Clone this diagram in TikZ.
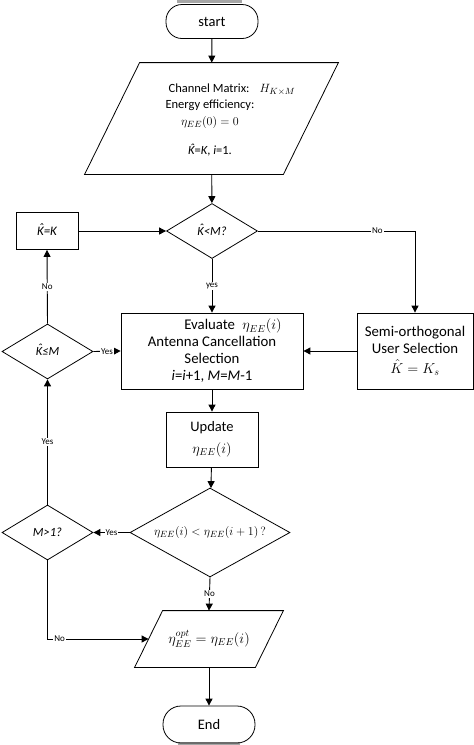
\documentclass[tikz,border=0pt]{standalone}
\usepackage{amsmath}
\usepackage[no-math]{fontspec}
\setmainfont{Carlito}
\usepackage{tikz}
\usetikzlibrary{shapes.geometric}
\usetikzlibrary{arrows.meta}
\usetikzlibrary{positioning}

% K with a hat, the hat glyph set over the letter
\newcommand{\Kh}{\ooalign{K\cr\hidewidth\kern0.15em\raisebox{0.45ex}{ˆ}\hidewidth\cr}}

\tikzset{
	term/.style={rectangle, draw=black, rounded corners=16pt, minimum width=92pt, minimum height=34pt, font=\fontsize{14.5}{16}\selectfont},
	proc/.style={rectangle, draw=black, inner sep=2pt, align=center, font=\fontsize{14.8}{17}\selectfont},
	io/.style={rectangle, draw=none, inner sep=0pt, align=center},
	ask/.style={diamond, draw=black, inner sep=0pt, aspect=1.65, minimum width=91pt, minimum height=55pt, font=\fontsize{12.5}{14}\selectfont\itshape},
	flow/.style={-{Triangle[length=7pt,width=7pt]}, line width=0.9pt},
	lbl/.style={fill=white, inner sep=1pt, font=\fontsize{9}{10}\selectfont}
}

\begin{document}
\begin{tikzpicture}[x=1pt, y=-1pt, line width=0.8pt]
	\useasboundingbox (0,0) rectangle (474,745);
	% cut shadows at the page edges
	\fill[gray!70] (177,0) rectangle (242,3);
	\fill[gray!70] (178,742) rectangle (240,745);

	% nodes
	\node[term] (start) at (212,21.5) {start};
	\node[io, minimum width=198pt, minimum height=111pt] (init) at (211.5,118.5) {};
	\draw ([xshift=27.5pt]init.north west) -- ([xshift=27.5pt]init.north east)
		-- ([xshift=-27.5pt]init.south east) -- ([xshift=-27.5pt]init.south west) -- cycle;
	\node[align=center, font=\fontsize{12.5}{16.5}\selectfont] at (210,120)
		{\hspace*{44pt}Channel Matrix:\hspace{10pt}$H_{K\times M}$\\ Energy efficiency:\\ $\eta_{EE}(0)=0$\\[13pt]
		{\itshape \Kh\upshape=\itshape K\upshape, \itshape i\upshape=1.}};
	\node[ask] (qkm) at (212,231) {\Kh<M?};
	\node[proc, minimum width=62pt, minimum height=37pt, font=\fontsize{13}{14}\selectfont\itshape] (kk) at (47,231) {\Kh=K};
	\node[proc, minimum width=182pt, minimum height=76pt] (eval) at (212,351)
		{\hspace*{42pt}Evaluate\enspace $\eta_{EE}(i)$\\ Antenna Cancellation\\ Selection\\ \textit{i}=\textit{i}+1, \textit{M}=\textit{M}-1};
	\node[proc, minimum width=116pt, minimum height=76pt] (semi) at (415,351)
		{Semi-orthogonal\\ User Selection\\[3pt] $\hat{K}=K_{s}$};
	\node[ask] (qle) at (47.5,351.5) {\Kh≤M};
	\node[proc, minimum width=92pt, minimum height=55pt, font=\fontsize{14.5}{22}\selectfont] (upd) at (212,439.5) {Update\\ $\eta_{EE}(i)$};
	\node[ask, aspect=1.8, minimum width=160pt, minimum height=89pt, font=\fontsize{12.5}{14}\selectfont] (qee) at (210,532.5)
		{$\eta_{EE}(i)<\eta_{EE}(i+1)\,?$};
	\node[ask] (qm) at (47.5,532.5) {M>1?};
	\node[io, minimum width=120pt, minimum height=56pt, font=\fontsize{14.5}{16}\selectfont] (opt) at (209,639)
		{$\eta^{opt}_{EE}=\eta_{EE}(i)$};
	\draw ([xshift=14pt]opt.north west) -- ([xshift=14pt]opt.north east)
		-- ([xshift=-14pt]opt.south east) -- ([xshift=-14pt]opt.south west) -- cycle;
	\node[term, minimum height=37pt, rounded corners=18pt] (end) at (209,724.5) {End};

	% connectors
	\draw[flow] (start) -- (init);
	\draw[flow] (init) -- (qkm);
	\draw[flow] (kk) -- (qkm);
	\draw[flow] (qkm.east) -| node[lbl, pos=0.38] {No} (semi.north);
	\draw[flow] (qkm) -- node[lbl] {yes} (eval);
	\draw[flow] (semi) -- (eval);
	\draw[flow] (qle.east) -- node[lbl] {Yes} (eval.west);
	\draw[flow] (qle.north) -- node[lbl] {No} (kk.south);
	\draw[flow] (eval) -- (upd);
	\draw[flow] (upd) -- (qee);
	\draw[flow] (qee.west) -- node[lbl] {Yes} (qm.east);
	\draw[flow] (qm.north) -- node[lbl] {Yes} (qle.south);
	\draw[flow] (qm.south) |- node[lbl, pos=0.56] {No} (opt.west);
	\draw[flow] (qee.south) -- node[lbl] {No} (opt.north);
	\draw[flow] (opt) -- (end);
\end{tikzpicture}
\end{document}
